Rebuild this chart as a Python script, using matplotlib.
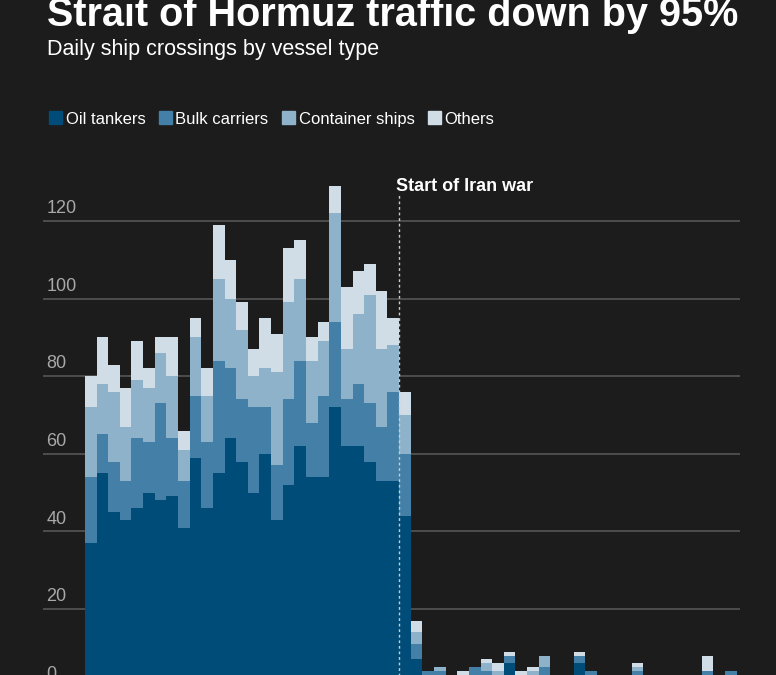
import matplotlib
matplotlib.use("Agg")
import matplotlib.pyplot as plt
import numpy as np

plt.rcParams["font.family"] = ["Liberation Sans", "DejaVu Sans"]

BG = "#1c1c1c"
COLORS = ["#004c78", "#437fa6", "#8db2ca", "#d0dde7"]
LABELS = ["Oil tankers", "Bulk carriers", "Container ships", "Others"]

# daily crossings, 56 days; war starts before day index 27
oil = [37, 55, 45, 43, 46, 50, 48, 49, 41, 59, 46, 55, 64, 58, 50, 60, 43, 52, 62, 54,
       54, 72, 62, 62, 58, 53, 53, 44, 7, 2, 2, 1, 1, 2, 2, 1, 6, 1, 1, 2,
       1, 1, 6, 2, 1, 1, 0, 2, 0, 0, 0, 0, 0, 2, 0, 2]
bulk = [17, 10, 13, 10, 18, 13, 25, 15, 12, 16, 17, 29, 18, 16, 22, 12, 14, 22, 22, 14,
        21, 22, 12, 16, 15, 14, 23, 16, 4, 2, 2, 1, 1, 3, 2, 2, 2, 1, 1, 3,
        0, 0, 2, 2, 1, 0, 0, 2, 0, 0, 0, 0, 0, 2, 0, 2]
container = [18, 13, 18, 14, 15, 14, 13, 16, 8, 15, 12, 21, 18, 18, 8, 10, 24, 25, 21, 16,
             14, 28, 13, 18, 28, 20, 12, 10, 3, 0, 1, 0, 1, 0, 2, 1, 0, 1, 2, 3,
             0, 0, 0, 0, 0, 0, 0, 1, 0, 0, 0, 0, 0, 0, 0, 0]
others = [8, 12, 7, 10, 10, 5, 4, 10, 5, 5, 7, 14, 10, 7, 7, 13, 10, 14, 10, 6,
          5, 7, 16, 11, 8, 15, 7, 6, 3, 0, 0, 0, 1, 0, 1, 2, 1, 1, 1, 0,
          0, 0, 1, 0, 0, 0, 0, 1, 0, 0, 0, 0, 0, 4, 0, 0]
series = [oil, bulk, container, others]
war_start = 26.5

fig = plt.figure(figsize=(7.76, 6.75), dpi=100, facecolor=BG)
ax = fig.add_axes([43 / 776, -0.0172, 697 / 776, 0.776])
ax.set_facecolor(BG)

x = np.arange(len(oil))
bottom = np.zeros(len(oil))
for vals, col in zip(series, COLORS):
    ax.bar(x, vals, width=1.0, bottom=bottom, color=col, linewidth=0, zorder=2)
    bottom += np.array(vals)

ax.set_xlim(-4.1, 55.8)
ax.set_ylim(0, 135)
for v in range(0, 140, 20):
    ax.axhline(v, color="#555555", linewidth=1.2, zorder=1)
    ax.text(-3.8, v + 1.0, str(v), color="#a8a8a8", fontsize=13, ha="left", va="bottom")
for s in ax.spines.values():
    s.set_visible(False)
ax.set_xticks([])
ax.set_yticks([])

ax.axvline(war_start, ymax=127 / 135, color="#cccccc", linestyle=(0, (2, 2)),
           linewidth=1, zorder=3)
ax.text(war_start - 0.25, 129, "Start of Iran war", color="white", fontsize=13,
        fontweight="bold", ha="left", va="center")

fig.text(47 / 776, 1 - 15 / 675, "Strait of Hormuz traffic down by 95%", color="white",
         fontsize=28.5, fontweight="bold", ha="left", va="center")
fig.text(47 / 776, 1 - 50 / 675, "Daily ship crossings by vessel type", color="white",
         fontsize=15.5, ha="left", va="center")

handles = [plt.Rectangle((0, 0), 1, 1, color=c) for c in COLORS]
fig.legend(handles, LABELS, loc="center left", bbox_to_anchor=(34 / 776, 1 - 119 / 675),
           ncol=4, frameon=False, fontsize=12, labelcolor="white",
           handlelength=0.8, handleheight=0.8, handletextpad=0.2, columnspacing=0.8)

fig.savefig("out.png", dpi=100, facecolor=BG)
